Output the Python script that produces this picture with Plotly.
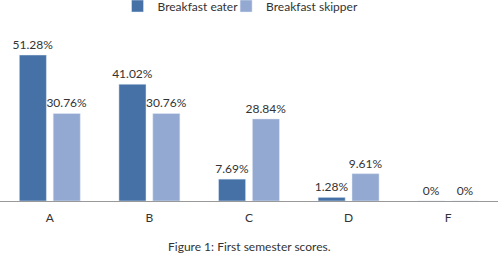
import plotly.graph_objects as go

categories = ["A", "B", "C", "D", "F"]
eater = [51.28, 41.02, 7.69, 1.28, 0]
skipper = [30.76, 30.76, 28.84, 9.61, 0]
eater_labels = ["51.28%", "41.02%", "7.69%", "1.28%", "0%"]
skipper_labels = ["30.76%", "30.76%", "28.84%", "9.61%", "0%"]

FONT = "Lato"
fig = go.Figure()
fig.add_bar(x=categories, y=eater, name="Breakfast eater", marker_color="#4671A7",
            text=eater_labels, textposition="outside", cliponaxis=False, constraintext="none",
            textfont=dict(size=12, color="#333333", family=FONT), legend="legend")
fig.add_bar(x=categories, y=skipper, name="Breakfast skipper", marker_color="#93A9D1",
            text=skipper_labels, textposition="outside", cliponaxis=False, constraintext="none",
            textfont=dict(size=12, color="#333333", family=FONT), legend="legend2")

leg = dict(orientation="h", y=1.225, yref="paper", yanchor="top", xanchor="left",
           font=dict(size=12, family=FONT, color="#333333"), itemwidth=30,
           bgcolor="rgba(0,0,0,0)")
fig.update_layout(
    width=500, height=256,
    margin=dict(l=0, r=2, t=30, b=55, autoexpand=False),
    paper_bgcolor="white", plot_bgcolor="white",
    barmode="group", bargap=0.32, bargroupgap=0.2,
    font=dict(family=FONT, size=12, color="#333333"),
    showlegend=True,
    legend=dict(leg, x=0.236),
    legend2=dict(leg, x=0.454),
    annotations=[dict(text="Figure 1: First semester scores.", x=0.5, xref="paper",
                      y=-0.269, yref="paper", yanchor="middle", showarrow=False,
                      font=dict(size=12, family=FONT, color="#333333"))],
)
fig.update_xaxes(showline=True, linecolor="#999999", linewidth=1, ticks="",
                 tickfont=dict(size=12, family=FONT, color="#333333"), ticklabelstandoff=6)
fig.update_yaxes(range=[0, 60.06], visible=False, showgrid=False)

fig.write_html("out.html")
